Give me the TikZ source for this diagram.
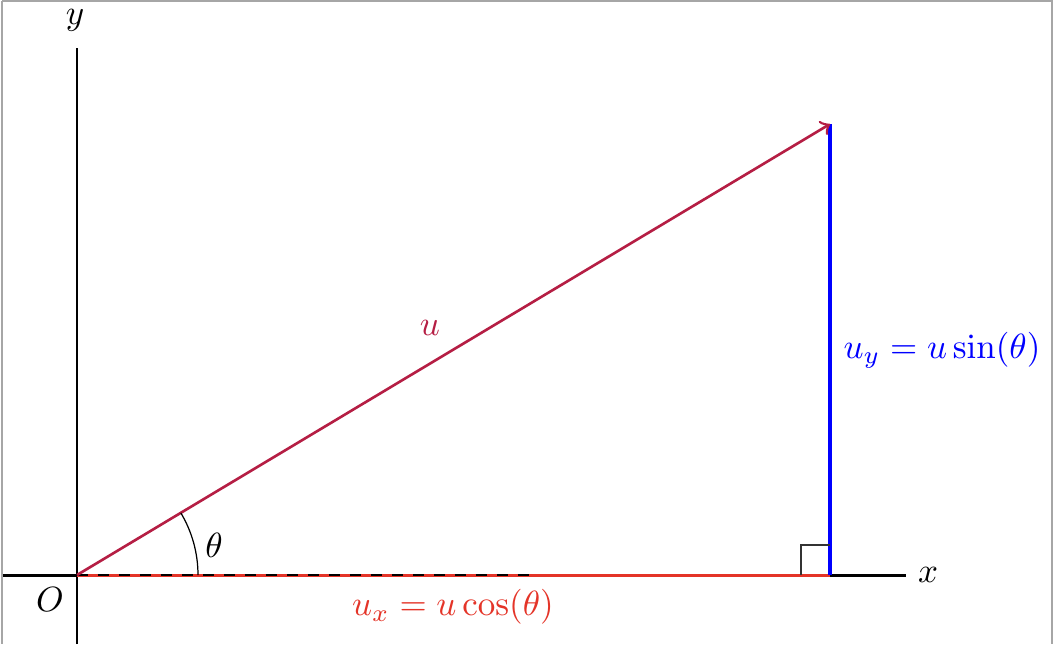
\documentclass[tikz,border=0pt]{standalone}
\definecolor{vec}{RGB}{181,30,68}
\definecolor{compx}{RGB}{228,52,40}
\definecolor{compy}{RGB}{0,0,255}
\begin{document}
\begin{tikzpicture}[x=0.2857pt,y=-0.2857pt,
  axis/.style={line width=0.85pt},
  vecline/.style={vec,line width=0.75pt,->},
  lbl/.style={inner sep=0pt}]
\useasboundingbox (0,0) rectangle (1056,644);
\draw[gray!70,line width=0.5pt] (2,1) -- (1052,1) -- (1052,644);
\draw[gray!70,line width=0.5pt] (2,1) -- (2,644);
\coordinate (O) at (77,575);
\coordinate (T) at (830,124);
\coordinate (F) at (830,575);
\coordinate (xs) at (3,575);
\coordinate (xe) at (906,575);
\coordinate (ys) at (77,644);
\coordinate (ye) at (77,48);
\coordinate (de) at (532,575);
% axes
\draw[axis] (xs) -- (xe);
\draw[axis] (ys) -- (ye);
\node[lbl] (xl) at (928,575) {$x$};
\node[lbl] (yl) at (75,20) {$y$};
\node[lbl] (Ol) at (50,600) {$O$};
% components
\draw[compx,line width=0.85pt] (O) -- (F);
\draw[dashed,line width=0.5pt] (O) -- (de);
\draw[compy,line width=0.9pt] (F) -- (T);
% right angle
\draw[black!80,line width=0.35pt] (801,575) -- (801,545) -- (830,545);
% vector
\draw[vecline] (O) -- (T);
% angle
\draw[line width=0.35pt] (198,575) arc[start angle=0,end angle=-30.9,radius=121];
\node[lbl] (th) at (214,545) {$\theta$};
\node[lbl,text=vec] (ul) at (430,328) {$u$};
\node[lbl,text=compy] (uy) at (942,350) {$u_y = u\sin(\theta)$};
\node[lbl,text=compx] (ux) at (453,607) {$u_x = u\cos(\theta)$};
\end{tikzpicture}
\end{document}
